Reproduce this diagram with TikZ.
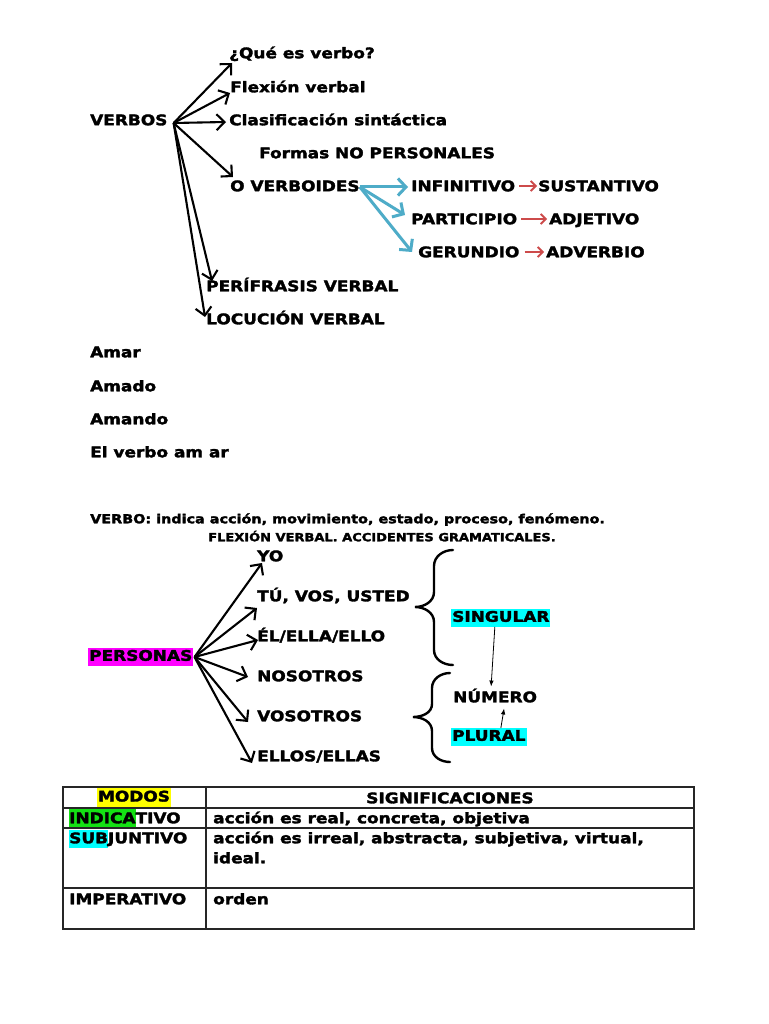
\documentclass[tikz,border=0pt]{standalone}
\usepackage{fontspec}
\setmainfont{DejaVu Sans}[FakeStretch=1.16, BoldFeatures={FakeBold=2.2}]
\usetikzlibrary{arrows.meta}
\definecolor{hlmag}{RGB}{255,0,255}
\definecolor{hlcyan}{RGB}{0,255,255}
\definecolor{hlyellow}{RGB}{255,255,0}
\definecolor{hlgreen}{RGB}{20,225,20}
\definecolor{arrblue}{RGB}{78,172,200}
\definecolor{arrred}{RGB}{205,75,75}
\newcommand\myfs[1]{\fontsize{#1}{#1}\selectfont\bfseries}
\tikzset{
  lbl/.style={inner sep=0pt, anchor=west, font=\myfs{14.6}, text height=10.5pt, text depth=0pt},
  small/.style={lbl, font=\myfs{12.4}},
  smaller/.style={lbl, font=\myfs{11.2}},
  hlbox/.style={lbl, inner xsep=1pt, inner ysep=0pt, text height=12.5pt, text depth=5pt},
  blkarrow/.style={line width=2.1pt, -{Straight Barb[length=8pt,width=16pt]}},
  bluearrow/.style={arrblue, line width=3pt, -{Straight Barb[length=8pt,width=17pt]}},
  redarrow/.style={arrred, line width=1.8pt, -{Straight Barb[length=5pt,width=10pt]}},
  thinarrow/.style={line width=0.8pt, -{Latex[length=6pt,width=4.5pt]}},
  brace/.style={line width=2.4pt, line cap=round},
  tbl/.style={line width=1.2pt, draw=black!85}
}
\begin{document}
\begin{tikzpicture}[x=1pt,y=-1pt]
\useasboundingbox[fill=white] (0,0) rectangle (768,1024);

% ---------- top diagram ----------
\node[lbl] (verbos) at (90,120) {VERBOS};
\node[lbl] (que) at (229,53) {¿Qué es verbo?};
\node[lbl] (flex) at (230,87) {Flexión verbal};
\node[lbl] (clas) at (229,120) {Clasificación sintáctica};
\node[lbl] (formas) at (259,153) {Formas NO PERSONALES};
\node[lbl] (overb) at (230,186) {O VERBOIDES};
\node[lbl] (inf) at (411,186) {INFINITIVO};
\node[lbl] (sust) at (538,186) {SUSTANTIVO};
\node[lbl] (part) at (411,219) {PARTICIPIO};
\node[lbl] (adj) at (549,219) {ADJETIVO};
\node[lbl] (ger) at (418,252) {GERUNDIO};
\node[lbl] (adv) at (546,252) {ADVERBIO};
\node[lbl] (perif) at (206,286) {PERÍFRASIS VERBAL};
\node[lbl] (locu) at (206,319) {LOCUCIÓN VERBAL};
\node[lbl] (amar) at (90,352) {Amar};
\node[lbl] (amado) at (90,386) {Amado};
\node[lbl] (amando) at (90,419) {Amando};
\node[lbl] (elverbo) at (90,452) {El verbo am ar};

\coordinate (vo) at ([shift={(6,3)}]verbos.east);
\draw[blkarrow] (vo) -- ([shift={(3,10)}]que.west);
\draw[blkarrow] (vo) -- ([shift={(0,6)}]flex.west);
\draw[blkarrow] (vo) -- ([shift={(-3,2)}]clas.west);
\draw[blkarrow] (vo) -- ([shift={(3,-9)}]overb.west);
\draw[blkarrow] (vo) -- ([shift={(6,-5)}]perif.west);
\draw[blkarrow] (vo) -- ([shift={(-1,-2)}]locu.west);

\coordinate (vb) at ([shift={(0,1)}]overb.east);
\draw[bluearrow] (vb) -- ([shift={(-3,1)}]inf.west);
\draw[bluearrow] (vb) -- ([shift={(-6,-4)}]part.west);
\draw[bluearrow] (vb) -- ([shift={(-6,0)}]ger.west);

\draw[redarrow] ([xshift=4]inf.east) -- ([xshift=-1]sust.west);
\draw[redarrow] ([xshift=4]part.east) -- ([xshift=-2]adj.west);
\draw[redarrow] ([xshift=5]ger.east) -- ([xshift=-2]adv.west);

% ---------- middle diagram ----------
\node[small] (def) at (90,518) {VERBO: indica acción, movimiento, estado, proceso, fenómeno.};
\node[smaller, anchor=center] (acc) at (382,536) {FLEXIÓN VERBAL. ACCIDENTES GRAMATICALES.};

\node[hlbox, fill=hlmag] (personas) at (88,657) {PERSONAS};
\node[lbl] (yo) at (257,556) {YO};
\node[lbl] (tu) at (257,596) {TÚ, VOS, USTED};
\node[lbl] (el) at (257,636) {ÉL/ELLA/ELLO};
\node[lbl] (nos) at (257,676) {NOSOTROS};
\node[lbl] (vos) at (257,716) {VOSOTROS};
\node[lbl] (ellos) at (257,756) {ELLOS/ELLAS};
\node[hlbox, fill=hlcyan] (sing) at (451,618) {SINGULAR};
\node[lbl] (num) at (453,697) {NÚMERO};
\node[hlbox, fill=hlcyan] (plur) at (451,737) {PLURAL};

\coordinate (po) at ([xshift=1]personas.east);
\draw[blkarrow] (po) -- ([shift={(5,7)}]yo.west);
\draw[blkarrow] (po) -- ([shift={(0,12)}]tu.west);
\draw[blkarrow] (po) -- ([shift={(1,4)}]el.west);
\draw[blkarrow] (po) -- ([shift={(-9,1)}]nos.west);
\draw[blkarrow] (po) -- ([shift={(-9,6)}]vos.west);
\draw[blkarrow] (po) -- ([shift={(-5,7)}]ellos.west);

\draw[brace] (453,550) to[out=180,in=90] (434,566) -- (434,592)
  to[out=-90,in=0] (415,607) to[out=0,in=90] (434,622) -- (434,650)
  to[out=-90,in=180] (453,665);
\draw[brace] (450,673) to[out=180,in=90] (432,688) -- (432,704)
  to[out=-90,in=0] (413,717) to[out=0,in=90] (432,731) -- (432,748)
  to[out=-90,in=180] (450,762);

\draw[thinarrow] ([xshift=-6]sing.south) -- ([xshift=-4,yshift=5]num.north);
\draw[thinarrow] ([xshift=12]plur.north) -- ([xshift=9,yshift=-6]num.south);

% ---------- table ----------
\draw[tbl] (63,787) rectangle (694,929);
\draw[tbl] (63,808) -- (694,808);
\draw[tbl] (63,828) -- (694,828);
\draw[tbl] (63,888) -- (694,888);
\draw[tbl] (206,787) -- (206,929);

\node[hlbox, fill=hlyellow, anchor=center, text height=10pt, text depth=1pt, inner ysep=4pt] (modos) at (134,797) {MODOS};
\node[lbl, anchor=center] (signif) at (450,798) {SIGNIFICACIONES};
\node[lbl] (indic) at (69,818) {\setlength\fboxsep{0pt}\colorbox{hlgreen}{\rule[-4pt]{0pt}{18pt}INDICA}TIVO};
\node[lbl] (sig1) at (213,818) {acción es real, concreta, objetiva};
\node[lbl] (subj) at (69,838) {\setlength\fboxsep{0pt}\colorbox{hlcyan}{\rule[-5pt]{0pt}{18pt}SUB}JUNTIVO};
\node[lbl] (sig2) at (213,838) {acción es irreal, abstracta, subjetiva, virtual,};
\node[lbl] (sig2b) at (213,858) {ideal.};
\node[lbl] (imper) at (69,899) {IMPERATIVO};
\node[lbl] (sig3) at (213,899) {orden};
\end{tikzpicture}
\end{document}
